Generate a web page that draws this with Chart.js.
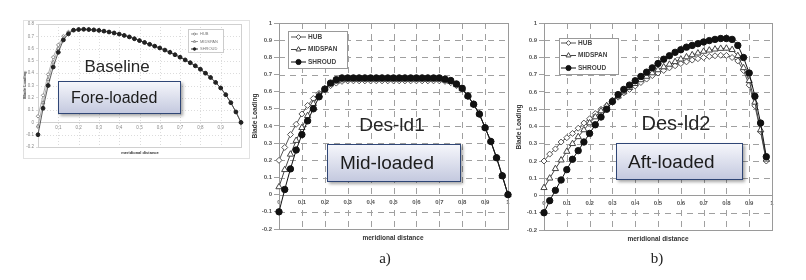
<!DOCTYPE html>
<html>
<head>
<meta charset="utf-8">
<script src="https://cdn.jsdelivr.net/npm/chart.js"></script>
<style>
  body { margin: 0; background: #fff; }
  #page { position: relative; width: 806px; height: 280px; overflow: hidden; background: #fff;
          font-family: "Liberation Sans", Arial, sans-serif; }
  canvas { position: absolute; }
  .big { position: absolute; transform: translate(-50%, -50%); white-space: nowrap; color: #262626; line-height: 1; }
  .tag { position: absolute; box-sizing: border-box; border: 1.5px solid #2f4676; color: #1c1c1c;
         background: linear-gradient(#f5f6fb, #c4c9df); box-shadow: 2px 2px 3px rgba(0,0,0,0.35);
         display: flex; align-items: center; white-space: nowrap; }
  .ytitle { position: absolute; transform: translate(-50%, -50%) rotate(-90deg); white-space: nowrap;
            font-weight: bold; color: #333; line-height: 1; }
  .xtitle { position: absolute; transform: translate(-50%, -50%); white-space: nowrap;
            font-weight: bold; color: #333; line-height: 1; }
  .cap { position: absolute; transform: translate(-50%, -50%); font-family: "Liberation Serif", serif;
         font-size: 15px; color: #222; line-height: 1; }
</style>
</head>
<body>
<div id="page">
  <div style="position:absolute; left:23px; top:20px; width:225px; height:137px; border:1px solid #e2e2e2;"></div>
  <canvas id="baseChart" width="230" height="145" style="left:20px; top:18px;"></canvas>
  <canvas id="ld1Chart" width="270" height="228" style="left:245px; top:12px;"></canvas>
  <canvas id="ld2Chart" width="275" height="228" style="left:510px; top:12px;"></canvas>

  <div class="ytitle" style="left:25px; top:85px; font-size:4px;">Blade Loading</div>
  <div class="xtitle" style="left:140px; top:153px; font-size:4px;">meridional distance</div>
  <div class="big" style="left:117px; top:66px; font-size:17px;">Baseline</div>
  <div class="tag" style="left:58px; top:81px; width:123px; height:33px; font-size:16px; padding-left:12px;">Fore-loaded</div>

  <div class="ytitle" style="left:255px; top:116px; font-size:6.5px;">Blade Loading</div>
  <div class="xtitle" style="left:393px; top:238px; font-size:6.5px;">meridional distance</div>
  <div class="big" style="left:392px; top:124px; font-size:19px;">Des-ld1</div>
  <div class="tag" style="left:327px; top:144px; width:134px; height:38px; font-size:19px; padding-left:12px;">Mid-loaded</div>
  <div class="cap" style="left:385px; top:258px;">a)</div>

  <div class="ytitle" style="left:519px; top:127px; font-size:6.5px;">Blade Loading</div>
  <div class="xtitle" style="left:658px; top:239px; font-size:6.5px;">meridional distance</div>
  <div class="big" style="left:676px; top:123px; font-size:20px;">Des-ld2</div>
  <div class="tag" style="left:616px; top:143px; width:127px; height:37px; font-size:19px; padding-left:11px;">Aft-loaded</div>
  <div class="cap" style="left:657px; top:258px;">b)</div>
</div>

<script>
// meridional stations (0.025 apart)
const meridional = [0, 0.025, 0.05, 0.075, 0.1, 0.125, 0.15, 0.175, 0.2, 0.225,
  0.25, 0.275, 0.3, 0.325, 0.35, 0.375, 0.4, 0.425, 0.45, 0.475,
  0.5, 0.525, 0.55, 0.575, 0.6, 0.625, 0.65, 0.675, 0.7, 0.725,
  0.75, 0.775, 0.8, 0.825, 0.85, 0.875, 0.9, 0.925, 0.95, 0.975, 1];
const seriesNames = ["HUB", "MIDSPAN", "SHROUD"];
const xTickValues = [0, 0.1, 0.2, 0.3, 0.4, 0.5, 0.6, 0.7, 0.8, 0.9, 1];
const yTicksBase = [-0.2, -0.1, 0, 0.1, 0.2, 0.3, 0.4, 0.5, 0.6, 0.7, 0.8];
const yTicksDes = [-0.2, -0.1, 0, 0.1, 0.2, 0.3, 0.4, 0.5, 0.6, 0.7, 0.8, 0.9, 1];

// Baseline (fore-loaded)
const baseHub = [0.05, 0.22, 0.39, 0.53, 0.63, 0.70, 0.735, 0.752, 0.755, 0.757,
  0.755, 0.752, 0.748, 0.742, 0.735, 0.727, 0.718, 0.707, 0.695, 0.68,
  0.665, 0.65, 0.635, 0.62, 0.605, 0.588, 0.57, 0.55, 0.53, 0.508,
  0.485, 0.46, 0.432, 0.40, 0.365, 0.325, 0.28, 0.225, 0.16, 0.085, 0.0];
const baseMid = [-0.03, 0.16, 0.35, 0.49, 0.60, 0.685, 0.728, 0.75, 0.755, 0.757,
  0.755, 0.752, 0.748, 0.742, 0.735, 0.727, 0.718, 0.707, 0.695, 0.68,
  0.665, 0.65, 0.635, 0.62, 0.605, 0.588, 0.57, 0.55, 0.53, 0.508,
  0.485, 0.46, 0.432, 0.40, 0.365, 0.325, 0.28, 0.225, 0.16, 0.085, 0.0];
const baseShroud = [-0.10, 0.115, 0.30, 0.45, 0.57, 0.67, 0.72, 0.75, 0.755, 0.757,
  0.755, 0.752, 0.748, 0.742, 0.735, 0.727, 0.718, 0.707, 0.695, 0.68,
  0.665, 0.65, 0.635, 0.62, 0.605, 0.588, 0.57, 0.55, 0.53, 0.508,
  0.485, 0.46, 0.432, 0.40, 0.365, 0.325, 0.28, 0.225, 0.16, 0.085, 0.0];

// Des-ld1 (mid-loaded)
const ld1Hub = [0.20, 0.275, 0.35, 0.41, 0.47, 0.52, 0.56, 0.59, 0.615, 0.635,
  0.65, 0.66, 0.663, 0.663, 0.663, 0.663, 0.663, 0.663, 0.663, 0.663,
  0.663, 0.663, 0.663, 0.663, 0.663, 0.663, 0.663, 0.663, 0.663, 0.66,
  0.652, 0.635, 0.612, 0.572, 0.525, 0.468, 0.39, 0.31, 0.215, 0.11, 0.0];
const ld1Mid = [0.045, 0.145, 0.235, 0.315, 0.39, 0.46, 0.53, 0.58, 0.615, 0.645,
  0.66, 0.668, 0.672, 0.672, 0.672, 0.672, 0.672, 0.672, 0.672, 0.672,
  0.672, 0.672, 0.672, 0.672, 0.672, 0.672, 0.672, 0.672, 0.672, 0.667,
  0.658, 0.64, 0.616, 0.574, 0.526, 0.469, 0.39, 0.31, 0.215, 0.11, 0.0];
const ld1Shroud = [-0.10, 0.03, 0.15, 0.26, 0.35, 0.43, 0.50, 0.57, 0.615, 0.65,
  0.67, 0.68, 0.68, 0.68, 0.68, 0.68, 0.68, 0.68, 0.68, 0.68,
  0.68, 0.68, 0.68, 0.68, 0.68, 0.68, 0.68, 0.68, 0.68, 0.673,
  0.665, 0.645, 0.62, 0.575, 0.527, 0.47, 0.39, 0.31, 0.215, 0.11, 0.0];

// Des-ld2 (aft-loaded), last station 0.975
const ld2Hub = [0.20, 0.24, 0.27, 0.31, 0.335, 0.36, 0.39, 0.42, 0.445, 0.475,
  0.50, 0.52, 0.545, 0.57, 0.595, 0.615, 0.635, 0.655, 0.675, 0.695,
  0.71, 0.725, 0.74, 0.752, 0.765, 0.775, 0.785, 0.793, 0.80, 0.806,
  0.81, 0.813, 0.812, 0.80, 0.78, 0.725, 0.64, 0.52, 0.37, 0.20];
const ld2Mid = [0.045, 0.10, 0.155, 0.205, 0.255, 0.30, 0.34, 0.38, 0.42, 0.455,
  0.49, 0.52, 0.55, 0.575, 0.60, 0.625, 0.648, 0.67, 0.69, 0.71,
  0.728, 0.745, 0.76, 0.775, 0.79, 0.803, 0.815, 0.825, 0.835, 0.842,
  0.848, 0.852, 0.853, 0.845, 0.81, 0.74, 0.665, 0.54, 0.38, 0.21];
const ld2Shroud = [-0.10, -0.03, 0.03, 0.09, 0.15, 0.21, 0.26, 0.31, 0.36, 0.41,
  0.455, 0.50, 0.545, 0.585, 0.615, 0.64, 0.665, 0.69, 0.715, 0.74,
  0.765, 0.79, 0.81, 0.83, 0.845, 0.86, 0.87, 0.88, 0.89, 0.898,
  0.905, 0.91, 0.91, 0.905, 0.87, 0.80, 0.71, 0.575, 0.42, 0.225];

// dashed grid at the scale ticks, then the outline of the plot area
const dashGrid = {
  id: "dashGrid",
  beforeDatasetsDraw(chart, args, opts) {
    const { left, top, right, bottom } = chart.chartArea;
    const { x, y } = chart.scales;
    const ctx = chart.ctx;
    ctx.save();
    ctx.lineWidth = 1;
    ctx.strokeStyle = opts.color;
    ctx.setLineDash(opts.dash);
    x.ticks.forEach((t) => {
      const px = Math.round(x.getPixelForValue(t.value)) + 0.5;
      ctx.beginPath();
      ctx.moveTo(px, top);
      ctx.lineTo(px, bottom);
      ctx.stroke();
    });
    y.ticks.forEach((t) => {
      const py = Math.round(y.getPixelForValue(t.value)) + 0.5;
      ctx.beginPath();
      ctx.moveTo(left, py);
      ctx.lineTo(right, py);
      ctx.stroke();
    });
    // solid zero line and frame
    ctx.setLineDash([]);
    ctx.strokeStyle = opts.frame;
    const zero = Math.round(y.getPixelForValue(0)) + 0.5;
    ctx.beginPath();
    ctx.moveTo(left, zero);
    ctx.lineTo(right, zero);
    ctx.stroke();
    ctx.strokeRect(Math.round(left) + 0.5, Math.round(top) + 0.5, Math.round(right - left), Math.round(bottom - top));
    ctx.restore();
  },
};

// boxed legend sitting inside the plot
const boxLegend = {
  id: "boxLegend",
  afterDatasetsDraw(chart, args, o) {
    const ctx = chart.ctx;
    ctx.save();
    ctx.fillStyle = "#fff";
    ctx.fillRect(o.x, o.y, o.w, o.h);
    ctx.strokeStyle = o.frame;
    ctx.lineWidth = 1;
    ctx.strokeRect(o.x + 0.5, o.y + 0.5, o.w, o.h);
    chart.data.datasets.forEach((ds, i) => {
      const cy = o.y + o.rowTop + i * o.row;
      const x0 = o.x + o.pad;
      ctx.strokeStyle = ds.borderColor;
      ctx.lineWidth = 1;
      ctx.beginPath();
      ctx.moveTo(x0, cy);
      ctx.lineTo(x0 + o.line, cy);
      ctx.stroke();
      ctx.fillStyle = ds.pointBackgroundColor;
      ctx.strokeStyle = ds.pointBorderColor;
      Chart.helpers.drawPoint(ctx, { pointStyle: ds.pointStyle, radius: ds.pointRadius * o.scale, rotation: 0, borderWidth: 1 }, x0 + o.line / 2, cy);
      ctx.fillStyle = o.color;
      ctx.font = o.font;
      ctx.textBaseline = "middle";
      ctx.fillText(ds.label, x0 + o.line + o.gap, cy);
    });
    ctx.restore();
  },
};

function buildChart(canvasId, series, o) {
  const datasets = series.map((vals, i) => ({
    label: seriesNames[i],
    data: vals.map((v, j) => ({ x: meridional[j], y: v })),
    showLine: true,
    borderWidth: o.lineWidth,
    pointBorderWidth: 1,
    clip: false,
    ...o.marks[i],
  }));

  return new Chart(document.getElementById(canvasId), {
    type: "scatter",
    data: { datasets },
    plugins: [dashGrid, boxLegend],
    options: {
      responsive: false,
      animation: false,
      events: [],
      layout: { padding: o.pad },
      plugins: {
        legend: { display: false },
        tooltip: { enabled: false },
        dashGrid: { color: o.grid, dash: o.dash, frame: o.frame },
        boxLegend: o.legend,
      },
      scales: {
        x: {
          type: "linear",
          position: { y: 0 },
          min: 0,
          max: 1,
          afterBuildTicks: (s) => { s.ticks = xTickValues.map((v) => ({ value: v })); },
          ticks: { autoSkip: false, maxRotation: 0, padding: o.xPad, color: o.tickColor, font: o.tickFont, callback: (v) => String(v) },
          grid: { drawOnChartArea: false, drawTicks: false },
          border: { display: false },
        },
        y: {
          type: "linear",
          min: o.yTicks[0],
          max: o.yTicks[o.yTicks.length - 1],
          afterBuildTicks: (s) => { s.ticks = o.yTicks.map((v) => ({ value: v })); },
          afterFit: (s) => { s.width = o.axisW; },
          ticks: { padding: o.yPad, color: o.tickColor, font: o.tickFont, callback: (v) => String(v) },
          grid: { drawOnChartArea: false, tickLength: o.tickLen, tickColor: o.grid },
          border: { display: false },
        },
      },
    },
  });
}

// marker styles: hub open diamond, midspan open triangle, shroud filled dot
const desMarks = [
  { pointStyle: "rectRot", pointRadius: 3, pointBackgroundColor: "#fff", pointBorderColor: "#555", borderColor: "#555", order: 2 },
  { pointStyle: "triangle", pointRadius: 3.6, pointBackgroundColor: "#fff", pointBorderColor: "#444", borderColor: "#444", order: 1 },
  { pointStyle: "circle", pointRadius: 3.2, pointBackgroundColor: "#111", pointBorderColor: "#111", borderColor: "#111", order: 0 },
];
const baseMarks = [
  { pointStyle: "rectRot", pointRadius: 1.8, pointBackgroundColor: "#fff", pointBorderColor: "#888", borderColor: "#999", order: 2 },
  { pointStyle: "triangle", pointRadius: 2, pointBackgroundColor: "#fff", pointBorderColor: "#888", borderColor: "#999", order: 1 },
  { pointStyle: "circle", pointRadius: 1.9, pointBackgroundColor: "#222", pointBorderColor: "#222", borderColor: "#333", order: 0 },
];

buildChart("baseChart", [baseHub, baseMid, baseShroud], {
  marks: baseMarks, lineWidth: 0.8, yTicks: yTicksBase, axisW: 18,
  pad: { top: 6, right: 9, bottom: 16, left: 0 },
  tickFont: { size: 4.5, family: "Liberation Sans" }, tickColor: "#888",
  grid: "#dcdcdc", dash: [1, 2], frame: "#d0d0d0",
  tickLen: 2, yPad: 2, xPad: 3,
  legend: { x: 168, y: 11, w: 35, h: 23, rowTop: 5, row: 7.5, pad: 3, line: 7, gap: 2, scale: 0.7,
            frame: "#ccc", color: "#777", font: "4px Liberation Sans" },
});

buildChart("ld1Chart", [ld1Hub, ld1Mid, ld1Shroud], {
  marks: desMarks, lineWidth: 1, yTicks: yTicksDes, axisW: 34,
  pad: { top: 11, right: 7, bottom: 11, left: 0 },
  tickFont: { size: 6, weight: "bold", family: "Liberation Sans" }, tickColor: "#555",
  grid: "#a0a0a0", dash: [6, 5], frame: "#9a9a9a",
  tickLen: 5, yPad: 2, xPad: 4,
  legend: { x: 43, y: 19, w: 59, h: 37, rowTop: 6, row: 12.5, pad: 3, line: 15, gap: 2, scale: 0.8,
            frame: "#999", color: "#444", font: "bold 6.5px Liberation Sans" },
});

buildChart("ld2Chart", [ld2Hub, ld2Mid, ld2Shroud], {
  marks: desMarks, lineWidth: 1, yTicks: yTicksDes, axisW: 34,
  pad: { top: 11, right: 13, bottom: 10, left: 0 },
  tickFont: { size: 6, weight: "bold", family: "Liberation Sans" }, tickColor: "#555",
  grid: "#a0a0a0", dash: [6, 5], frame: "#9a9a9a",
  tickLen: 5, yPad: 2, xPad: 4,
  legend: { x: 49, y: 26, w: 59, h: 36, rowTop: 5, row: 12.5, pad: 2, line: 15, gap: 2, scale: 0.8,
            frame: "#999", color: "#444", font: "bold 6.5px Liberation Sans" },
});
</script>
</body>
</html>
